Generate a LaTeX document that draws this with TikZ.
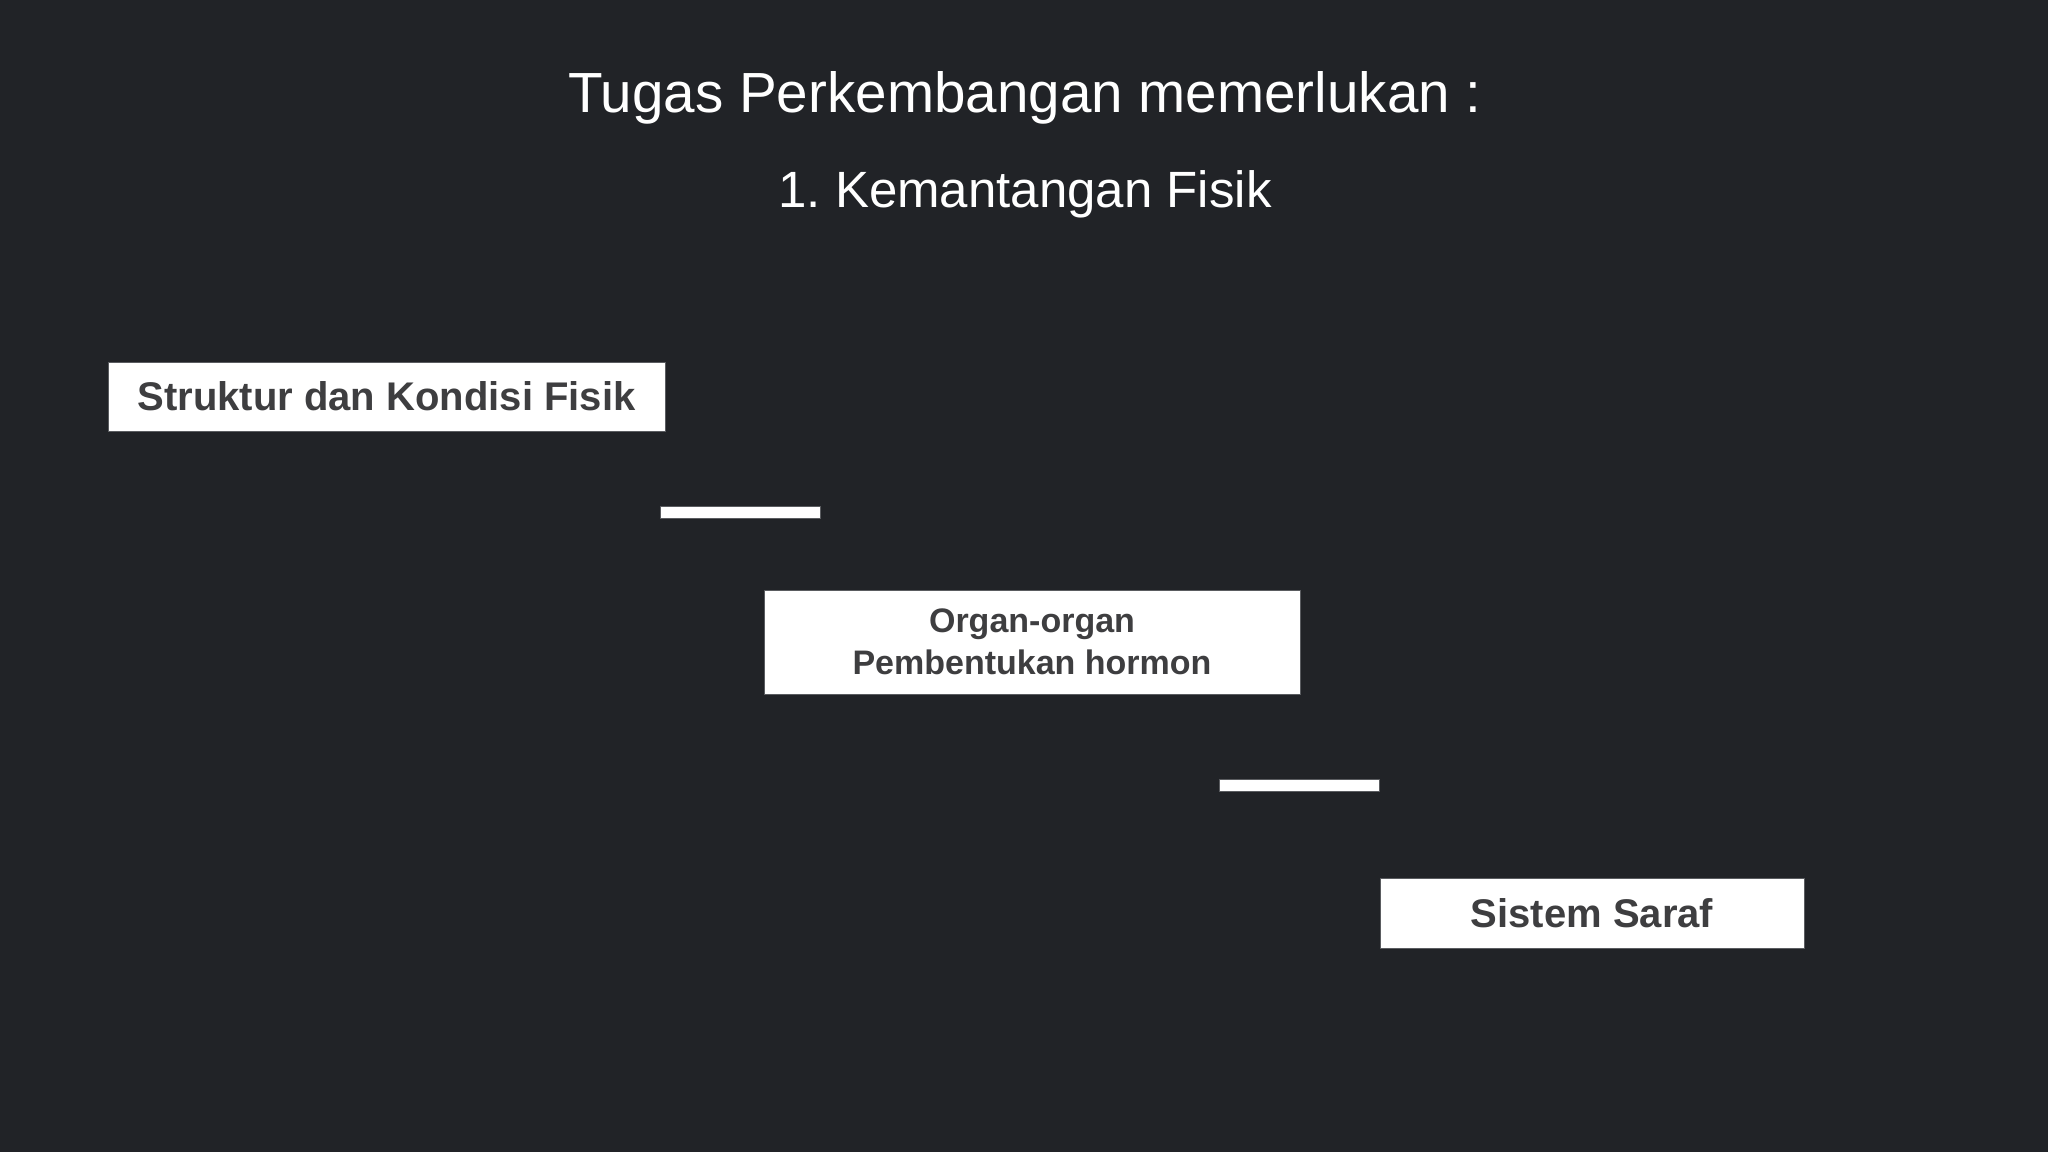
\documentclass[tikz,border=0pt]{standalone}
\usepackage{fontspec}
\setmainfont{Liberation Sans}
\frenchspacing
\definecolor{bgdark}{RGB}{33,35,39}
\definecolor{boxtext}{RGB}{62,62,64}
\definecolor{boxedge}{RGB}{90,92,96}
\tikzset{
  px/.style={x=0.5pt,y=-0.5pt},
  whitebox/.style={rectangle,fill=white,draw=boxedge,line width=0.4pt,inner sep=0pt,text=boxtext,
    font=\fontsize{20}{24}\selectfont\bfseries,align=center},
  bar/.style={rectangle,fill=white,draw=boxedge,line width=0.3pt,inner sep=0pt,minimum width=80pt,minimum height=6pt},
  titletext/.style={text=white,inner sep=0pt,anchor=base}
}
\begin{document}
\begin{tikzpicture}[px]
\fill[bgdark] (0,0) rectangle (2048,1152);
\useasboundingbox (0,0) rectangle (2048,1152);
\node[titletext,font=\fontsize{28.3}{32}\selectfont] (title) at (1025,112) {Tugas Perkembangan memerlukan :};
\node[titletext,font=\fontsize{25.5}{30}\selectfont] (sub) at (1025,207) {1. Kemantangan Fisik};
\node[whitebox,minimum width=278.5pt,minimum height=34.5pt] (b1) at (386.5,396.5) {Struktur dan Kondisi Fisik};
\node[bar] (bar1) at (740,512) {};
\node[whitebox,minimum width=268pt,minimum height=52pt,font=\fontsize{17}{21}\selectfont\bfseries] (b2) at (1032,642) {Organ-organ\\Pembentukan hormon};
\node[bar] (bar2) at (1299,785.5) {};
\node[whitebox,minimum width=212pt,minimum height=35pt] (b3) at (1592,913) {Sistem Saraf};
\end{tikzpicture}
\end{document}
